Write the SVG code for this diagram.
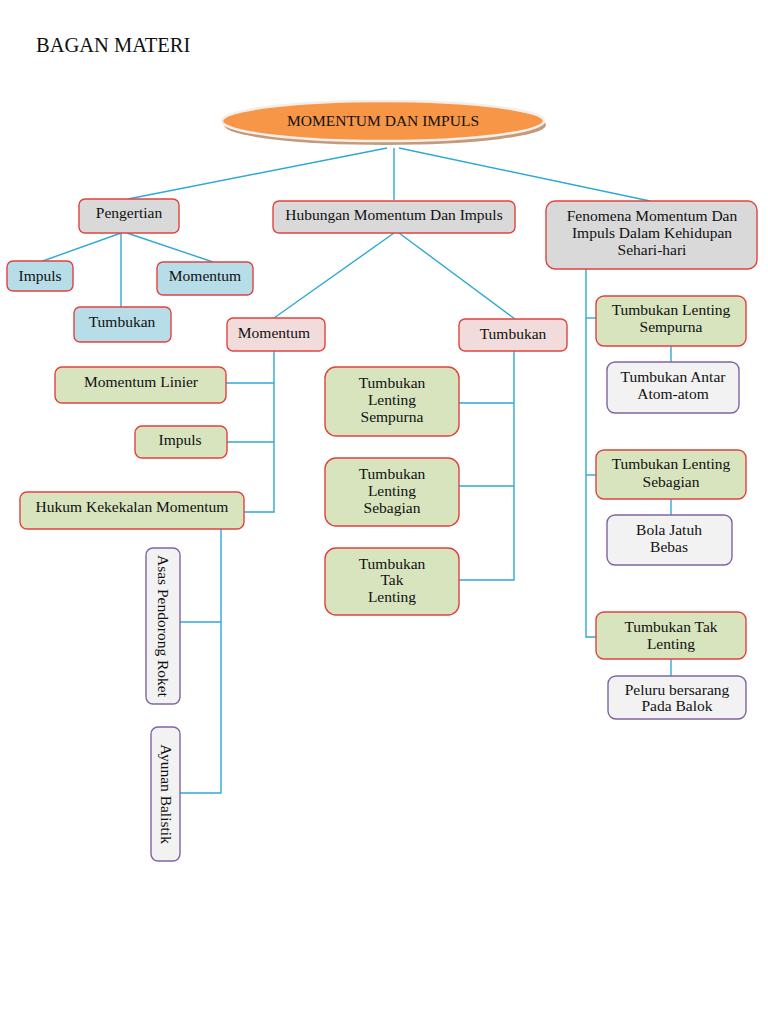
<svg xmlns="http://www.w3.org/2000/svg" width="768" height="1024" viewBox="0 0 768 1024">
<style>
text{font-family:"Liberation Serif","Times New Roman","DejaVu Serif",serif;font-size:15.5px;fill:#111;text-anchor:middle}
.c{stroke:#2EA9D6;stroke-width:1.4;fill:none}
.grey{fill:#D9D9D9;stroke:#E2423F;stroke-width:1.4}
.blue{fill:#B7DDE8;stroke:#E2423F;stroke-width:1.4}
.pink{fill:#F2DCDB;stroke:#E2423F;stroke-width:1.4}
.green{fill:#D7E4BD;stroke:#E2423F;stroke-width:1.4}
.pur{fill:#F2F2F2;stroke:#8064A2;stroke-width:1.4}
</style>
<rect width="768" height="1024" fill="#fff"/>
<text x="36" y="52" style="font-size:20.5px;text-anchor:start">BAGAN MATERI</text>
<g id="connectors">
<line class="c" x1="387" y1="148" x2="128" y2="199"/>
<line class="c" x1="394" y1="148" x2="394" y2="200"/>
<line class="c" x1="399" y1="148" x2="650" y2="201"/>
<line class="c" x1="121" y1="233" x2="40" y2="262"/>
<line class="c" x1="121" y1="233" x2="121" y2="307"/>
<line class="c" x1="127" y1="233" x2="213" y2="262"/>
<line class="c" x1="394" y1="233" x2="274" y2="318"/>
<line class="c" x1="399" y1="233" x2="515" y2="319"/>
<polyline class="c" points="274,351 274,512 244,512"/>
<line class="c" x1="226" y1="383" x2="274" y2="383"/>
<line class="c" x1="227" y1="442" x2="274" y2="442"/>
<polyline class="c" points="221,529 221,793 180,793"/>
<line class="c" x1="180" y1="622" x2="221" y2="622"/>
<polyline class="c" points="514,351 514,580 459,580"/>
<line class="c" x1="459" y1="403" x2="514" y2="403"/>
<line class="c" x1="459" y1="486" x2="514" y2="486"/>
<polyline class="c" points="586,269 586,637 596,637"/>
<line class="c" x1="586" y1="318" x2="596" y2="318"/>
<line class="c" x1="586" y1="475" x2="596" y2="475"/>
<line class="c" x1="671" y1="346" x2="671" y2="362"/>
<line class="c" x1="671" y1="499" x2="671" y2="515"/>
<line class="c" x1="671" y1="659" x2="671" y2="676"/>
</g>
<g id="root">
<ellipse cx="385" cy="125" rx="161" ry="20" fill="#C49A7C"/>
<ellipse cx="383" cy="121" rx="161" ry="20" fill="#F79646" stroke="#F3EEEA" stroke-width="2.5"/>
<text x="383" y="126">MOMENTUM DAN IMPULS</text>
</g>
<g id="pengertian"><rect class="grey" x="79" y="199" width="100" height="34" rx="6"/><text x="129" y="218">Pengertian</text></g>
<g id="impuls1"><rect class="blue" x="7" y="261" width="66" height="30" rx="6"/><text x="40" y="281">Impuls</text></g>
<g id="momentum1"><rect class="blue" x="157" y="262" width="96" height="33" rx="6"/><text x="205" y="281">Momentum</text></g>
<g id="tumbukan1"><rect class="blue" x="74" y="307" width="97" height="35" rx="6"/><text x="122" y="327">Tumbukan</text></g>
<g id="hubungan"><rect class="grey" x="273" y="201" width="242" height="32" rx="6"/><text x="394" y="220">Hubungan Momentum Dan Impuls</text></g>
<g id="momentum2"><rect class="pink" x="227" y="318" width="98" height="33" rx="6"/><text x="274" y="338">Momentum</text></g>
<g id="tumbukan2"><rect class="pink" x="459" y="319" width="108" height="32" rx="6"/><text x="513" y="339">Tumbukan</text></g>
<g id="momentum-linier"><rect class="green" x="55" y="367" width="171" height="36" rx="7"/><text x="141" y="387">Momentum Linier</text></g>
<g id="impuls2"><rect class="green" x="135" y="426" width="92" height="32" rx="7"/><text x="180" y="445">Impuls</text></g>
<g id="hukum"><rect class="green" x="20" y="492" width="224" height="37" rx="7"/><text x="132" y="512">Hukum Kekekalan Momentum</text></g>
<g id="asas"><rect class="pur" x="146" y="548" width="34" height="156" rx="7"/><text transform="translate(158,626) rotate(90)">Asas Pendorong Roket</text></g>
<g id="ayunan"><rect class="pur" x="151" y="727" width="29" height="134" rx="7"/><text transform="translate(161,794) rotate(90)">Ayunan  Balistik</text></g>
<g id="tls-mid"><rect class="green" x="325" y="367" width="134" height="69" rx="11"/><text x="392" y="388">Tumbukan</text><text x="392" y="405">Lenting</text><text x="392" y="422">Sempurna</text></g>
<g id="tlseb-mid"><rect class="green" x="325" y="458" width="134" height="68" rx="11"/><text x="392" y="479">Tumbukan</text><text x="392" y="496">Lenting</text><text x="392" y="513">Sebagian</text></g>
<g id="ttl-mid"><rect class="green" x="325" y="548" width="134" height="67" rx="11"/><text x="392" y="569">Tumbukan</text><text x="392" y="585">Tak</text><text x="392" y="602">Lenting</text></g>
<g id="fenomena"><rect class="grey" x="546" y="201" width="211" height="68" rx="9"/><text x="652" y="221">Fenomena Momentum Dan</text><text x="652" y="238">Impuls Dalam Kehidupan</text><text x="652" y="255">Sehari-hari</text></g>
<g id="tls-right"><rect class="green" x="596" y="296" width="150" height="50" rx="8"/><text x="671" y="315">Tumbukan Lenting</text><text x="671" y="332">Sempurna</text></g>
<g id="antar"><rect class="pur" x="607" y="362" width="132" height="51" rx="8"/><text x="673" y="382">Tumbukan Antar</text><text x="673" y="399">Atom-atom</text></g>
<g id="tlseb-right"><rect class="green" x="596" y="450" width="150" height="49" rx="8"/><text x="671" y="469">Tumbukan Lenting</text><text x="671" y="487">Sebagian</text></g>
<g id="bola"><rect class="pur" x="607" y="515" width="125" height="50" rx="8"/><text x="669" y="535">Bola Jatuh</text><text x="669" y="552">Bebas</text></g>
<g id="ttl-right"><rect class="green" x="596" y="612" width="150" height="47" rx="8"/><text x="671" y="632">Tumbukan Tak</text><text x="671" y="649">Lenting</text></g>
<g id="peluru"><rect class="pur" x="608" y="676" width="138" height="43" rx="8"/><text x="677" y="695">Peluru bersarang</text><text x="677" y="711">Pada Balok</text></g>
</svg>
